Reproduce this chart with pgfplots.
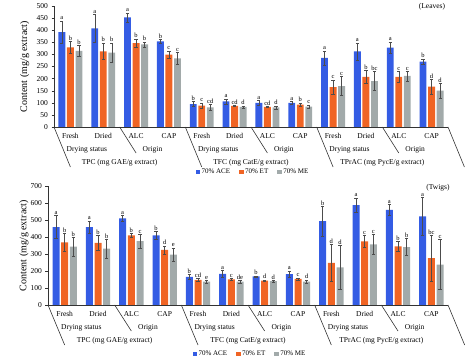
\documentclass[border=0pt]{standalone}
\usepackage{pgfplots}
\pgfplotsset{compat=1.18}
\usepackage{pgfplotstable}
\usepackage{fontspec}
\setmainfont{Liberation Serif}
\definecolor{cA}{RGB}{52,92,228}
\definecolor{cB}{RGB}{240,100,36}
\definecolor{cC}{RGB}{162,170,170}

\pgfplotstableread{
x a ae al b be bl c ce cl
0 392 47 a 329 25 b 315 22 b
1 408 58 a 313 34 b 307 40 b
2 453 19 a 347 17 b 341 10 b
3 354 8 b 299 16 c 284 24 c
4 95 10 b 88 11 c 81 12 cd
5 106 10 a 87 3 cd 83 4 d
6 100 11 a 83 3 cd 81 6 d
7 100 5 a 92 7 b 84 8 c
8 286 29 a 165 29 c 169 39 c
9 313 35 a 207 26 b 190 40 bc
10 328 24 a 207 23 c 211 20 c
11 270 12 b 167 30 d 150 30 d
}\leaves

\pgfplotstableread{
x a ae al b be bl c ce cl
0 458 68 a 369 52 b 343 55 b
1 458 37 a 365 45 b 331 55 b
2 509 18 a 410 13 b 376 39 c
3 410 23 b 324 23 d 296 39 e
4 166 15 b 148 10 cd 138 7 e
5 183 22 a 150 7 c 138 8 de
6 168 3 b 144 3 d 140 4 d
7 181 20 a 154 6 c 138 9 d
8 493 88 b 248 110 d 222 127 d
9 587 43 a 374 35 c 357 58 c
10 560 31 a 345 31 b 341 49 b
11 521 111 a 275 135 bc 238 148 c
}\twigs

\tikzset{
  sepline/.style={draw=black!80, line width=0.6pt},
  mltext/.style={anchor=base, font=\fontsize{7.5}{8}\selectfont, inner sep=0pt},
}

\pgfplotsset{
  panel/.style={
    scale only axis,
    xmin=-0.5, xmax=11.5, ymin=0,
    axis x line=bottom, axis y line=left,
    axis line style={-, draw=black!80, line width=0.6pt},
    every outer x axis line/.append style={-},
    every outer y axis line/.append style={-},
    xtick=\empty,
    tick align=outside, major tick length=2.5pt,
    ytick style={draw=black!80},
    tick label style={font=\fontsize{7.5}{8}\selectfont},
    /pgf/number format/assume math mode=true,
    clip=false,
    legend columns=3,
    legend style={draw=none, fill=none, font=\fontsize{7}{8}\selectfont,
      /tikz/every even column/.append style={column sep=7pt}},
    label style={font=\fontsize{7.5}{8}\selectfont},
  },
  lbl/.style={draw=none, mark=none, nodes near coords, point meta=explicit symbolic,
    every node near coord/.append style={font=\fontsize{6.5}{7}\selectfont, anchor=south, inner sep=0.8pt}},
  eb/.style={draw=none, mark=none, error bars/.cd, y dir=both, y explicit,
    error bar style={line width=0.4pt, draw=black!70},
    error mark options={rotate=90, mark size=1.6pt, line width=0.4pt, draw=black!70}},
}

\newcommand{\bars}[1]{%
  \addplot[ybar, bar width=0.21, bar shift=-0.26, fill=cA, draw=none, forget plot] table[x=x, y=a]{#1};
  \addplot[ybar, bar width=0.21, bar shift=0, fill=cB, draw=none, forget plot] table[x=x, y=b]{#1};
  \addplot[ybar, bar width=0.21, bar shift=0.26, fill=cC, draw=none, forget plot] table[x=x, y=c]{#1};
  \addplot[forget plot, eb] table[x expr=\thisrow{x}-0.26, y=a, y error=ae]{#1};
  \addplot[forget plot, eb] table[x expr=\thisrow{x}, y=b, y error=be]{#1};
  \addplot[forget plot, eb] table[x expr=\thisrow{x}+0.26, y=c, y error=ce]{#1};
  \addplot[lbl, forget plot] table[x expr=\thisrow{x}-0.26, y expr=\thisrow{a}+\thisrow{ae}, meta=al]{#1};
  \addplot[lbl, forget plot] table[x expr=\thisrow{x}, y expr=\thisrow{b}+\thisrow{be}, meta=bl]{#1};
  \addplot[lbl, forget plot] table[x expr=\thisrow{x}+0.26, y expr=\thisrow{c}+\thisrow{ce}, meta=cl]{#1};
  \addlegendimage{legend image code/.code={\fill[cA] (0pt,-1.8pt) rectangle (3.6pt,1.8pt);}}
  \addlegendentry{70\% ACE}
  \addlegendimage{legend image code/.code={\fill[cB] (0pt,-1.8pt) rectangle (3.6pt,1.8pt);}}
  \addlegendentry{70\% ET}
  \addlegendimage{legend image code/.code={\fill[cC] (0pt,-1.8pt) rectangle (3.6pt,1.8pt);}}
  \addlegendentry{70\% ME}
}

\newcommand{\multilevel}{%
  \draw[sepline] (axis cs:-0.5,0) -- ++(0,-40pt);
  \draw[sepline] (axis cs:3.5,0) -- ++(0,-40pt);
  \draw[sepline] (axis cs:7.5,0) -- ++(0,-40pt);
  \draw[sepline] (axis cs:11.5,0) -- ++(0,-40pt);
  \draw[sepline] (axis cs:1.5,0) -- ++(0,-26pt);
  \draw[sepline] (axis cs:5.5,0) -- ++(0,-26pt);
  \draw[sepline] (axis cs:9.5,0) -- ++(0,-26pt);
  \node[mltext] at ([yshift=-11.7pt]axis cs:0,0) {Fresh};
  \node[mltext] at ([yshift=-11.7pt]axis cs:1,0) {Dried};
  \node[mltext] at ([yshift=-11.7pt]axis cs:2,0) {ALC};
  \node[mltext] at ([yshift=-11.7pt]axis cs:3,0) {CAP};
  \node[mltext] at ([yshift=-11.7pt]axis cs:4,0) {Fresh};
  \node[mltext] at ([yshift=-11.7pt]axis cs:5,0) {Dried};
  \node[mltext] at ([yshift=-11.7pt]axis cs:6,0) {ALC};
  \node[mltext] at ([yshift=-11.7pt]axis cs:7,0) {CAP};
  \node[mltext] at ([yshift=-11.7pt]axis cs:8,0) {Fresh};
  \node[mltext] at ([yshift=-11.7pt]axis cs:9,0) {Dried};
  \node[mltext] at ([yshift=-11.7pt]axis cs:10,0) {ALC};
  \node[mltext] at ([yshift=-11.7pt]axis cs:11,0) {CAP};
  \node[mltext] at ([yshift=-24.5pt]axis cs:0.5,0) {Drying status};
  \node[mltext] at ([yshift=-24.5pt]axis cs:2.5,0) {Origin};
  \node[mltext] at ([yshift=-24.5pt]axis cs:4.5,0) {Drying status};
  \node[mltext] at ([yshift=-24.5pt]axis cs:6.5,0) {Origin};
  \node[mltext] at ([yshift=-24.5pt]axis cs:8.5,0) {Drying status};
  \node[mltext] at ([yshift=-24.5pt]axis cs:10.5,0) {Origin};
  \node[mltext] at ([yshift=-38pt]axis cs:1.5,0) {TPC (mg GAE/g extract)};
  \node[mltext] at ([yshift=-38pt]axis cs:5.5,0) {TFC (mg CatE/g extract)};
  \node[mltext] at ([yshift=-38pt]axis cs:9.5,0) {TPrAC (mg PycE/g extract)};
}

\begin{document}
\begin{tikzpicture}
\useasboundingbox (0,0) rectangle (474pt,361pt);
\begin{axis}[panel,
  at={(54pt,234pt)}, anchor=south west,
  width=394pt, height=121pt,
  ymax=500, ytick distance=50,
  ylabel={Content (mg/g extract)},
  every axis y label/.style={at={(axis description cs:-0.074,0.5)}, rotate=90, anchor=center},
  legend style={at={(axis description cs:0.505,-0.37)}, anchor=base},
]
\bars{\leaves}
\multilevel
\end{axis}
\node[font=\fontsize{7.5}{8}\selectfont] at (432pt,354pt) {(Leaves)};

\begin{axis}[panel,
  at={(48pt,56pt)}, anchor=south west,
  width=400pt, height=119pt,
  ymax=700, ytick distance=100,
  ylabel={Content (mg/g extract)},
  every axis y label/.style={at={(axis description cs:-0.06,0.5)}, rotate=90, anchor=center},
  legend style={at={(axis description cs:0.505,-0.41)}, anchor=base},
]
\bars{\twigs}
\multilevel
\end{axis}
\node[font=\fontsize{7.5}{8}\selectfont] at (438pt,173pt) {(Twigs)};
\end{tikzpicture}
\end{document}
